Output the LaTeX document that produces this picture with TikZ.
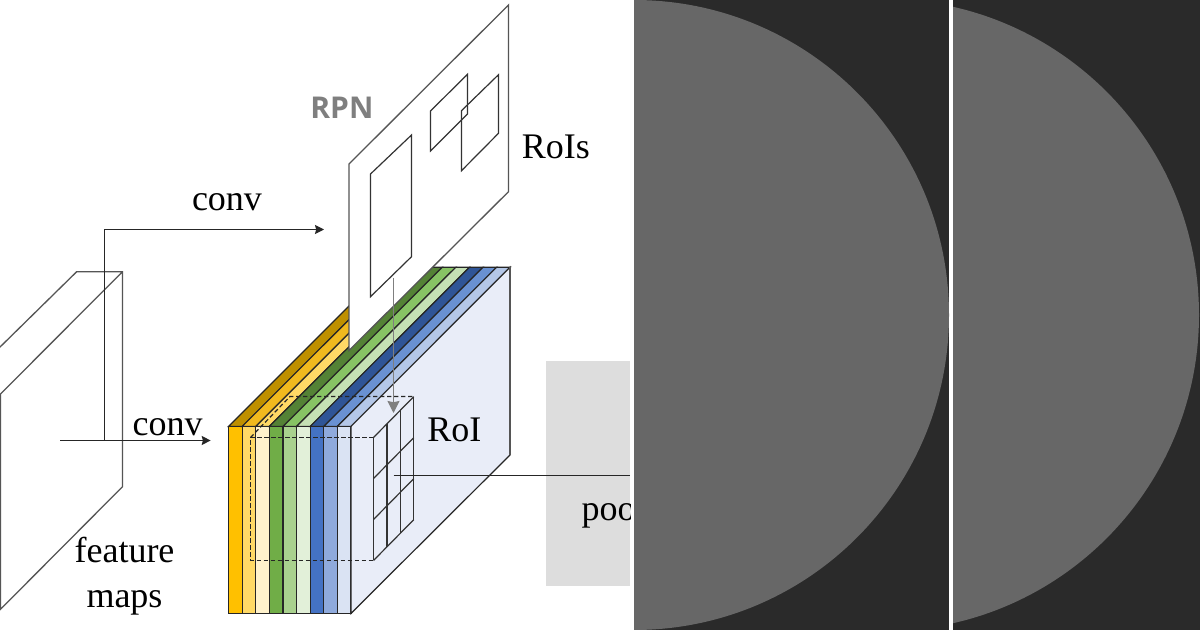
\documentclass[tikz,border=0pt]{standalone}
\usepackage{fontspec}
\setmainfont{Liberation Serif}
\newfontfamily\rpnfont{Open Sans}
\usetikzlibrary{calc,arrows.meta,positioning}
\definecolor{panelDark}{RGB}{42,42,42}
\definecolor{discGrey}{RGB}{103,103,103}
\definecolor{boxGrey}{RGB}{221,221,221}
\definecolor{edgeGrey}{RGB}{85,85,85}
\definecolor{rpnGrey}{RGB}{127,127,127}
\definecolor{sideBlue}{RGB}{233,237,248}
\definecolor{frontA}{RGB}{255,192,0}
\definecolor{frontB}{RGB}{255,217,102}
\definecolor{frontC}{RGB}{255,242,204}
\definecolor{frontD}{RGB}{112,173,71}
\definecolor{frontE}{RGB}{169,209,142}
\definecolor{frontF}{RGB}{226,240,217}
\definecolor{frontG}{RGB}{68,114,196}
\definecolor{frontH}{RGB}{143,170,220}
\definecolor{frontI}{RGB}{218,227,243}
\definecolor{topA}{RGB}{191,144,0}
\definecolor{topB}{RGB}{240,185,30}
\definecolor{topC}{RGB}{255,217,102}
\definecolor{topD}{RGB}{84,130,53}
\definecolor{topE}{RGB}{135,195,100}
\definecolor{topF}{RGB}{197,224,180}
\definecolor{topG}{RGB}{47,85,151}
\definecolor{topH}{RGB}{105,145,210}
\definecolor{topI}{RGB}{180,199,231}
\tikzset{
  labeltext/.style={anchor=base west,inner sep=0pt,font=\fontsize{18}{20}\selectfont},
  sheet/.style={draw=edgeGrey,line width=0.65pt},
  thinbox/.style={draw=black!80,line width=0.6pt},
  flowline/.style={draw=black!85,line width=0.6pt},
  roidash/.style={draw=black!85,line width=0.6pt,dash pattern=on 2.2pt off 1.3pt}
}
\begin{document}
\begin{tikzpicture}[x=0.5pt,y=-0.5pt]
\useasboundingbox (0,0) rectangle (1200,630);
\fill[white] (0,0) rectangle (1200,630);
% dark panels
\fill[panelDark] (634,0) rectangle (949,630);
\fill[panelDark] (953,0) rectangle (1200,630);
\begin{scope}
  \clip (634,0) rectangle (949,630);
  \fill[discGrey] (634,315) circle (315);
\end{scope}
\begin{scope}
  \clip (953,0) rectangle (1200,630);
  \fill[discGrey] (883,315) circle (316);
\end{scope}
% grey box
\fill[boxGrey] (546,361) rectangle (630,586);
\begin{scope}
  \clip (546,361) rectangle (630,586);
  \node[labeltext] (poolText) at (581.2,521) {poo};
\end{scope}
% feature maps sheet
\begin{scope}
  \clip (0,0) rectangle (1200,630);
  \draw[sheet] (-20,366.7) -- (76.7,271.7) -- (122.5,271.7) -- (122.5,486.7) -- (0.5,609.3) -- (0.5,394) -- (122.5,271.7);
\end{scope}
% stack of maps
\foreach \i/\cfront/\ctop in {0/frontA/topA,1/frontB/topB,2/frontC/topC,3/frontD/topD,4/frontE/topE,5/frontF/topF,6/frontG/topG,7/frontH/topH,8/frontI/topI}{
  \pgfmathsetmacro{\xa}{228.5+13.6*\i}
  \pgfmathsetmacro{\xb}{228.5+13.6*(\i+1)}
  \filldraw[draw=black!85,line width=0.6pt,fill=\ctop] (\xa,426.5) -- ++(159.3,-159.2) -- ++(13.6,0) -- (\xb,426.5) -- cycle;
  \filldraw[draw=black!85,line width=0.6pt,fill=\cfront] (\xa,426.5) rectangle (\xb,613.5);
}
\filldraw[fill=sideBlue,draw=black!85,line width=0.6pt] (350.9,426.5) -- (510,267.3) -- (510,455) -- (350.9,613.5) -- cycle;
\draw[edgeGrey,line width=0.9pt] (510,267.3) -- (510,455);
% RPN sheet
\filldraw[sheet,fill=white] (349,164) -- (508.5,5) -- (508.5,191.7) -- (349,350.5) -- cycle;
\draw[thinbox] (370.5,174) -- (411.5,135) -- (411.5,256.7) -- (370.5,296.7) -- cycle;
\draw[thinbox] (430.5,111) -- (467.5,74.3) -- (467.5,114) -- (430.5,151) -- cycle;
\draw[thinbox] (461.5,110.7) -- (498.5,74.7) -- (498.5,133.3) -- (461.5,170.7) -- cycle;
% RoI on the stack
\draw[roidash] (373.5,437.5) -- (250.5,437.5) -- (250.5,560.5) -- (373.5,560.5);
\draw[roidash] (250.5,437.5) -- (290,396.5) -- (413.5,396.5);
\foreach \k in {0,1,2,3}{
  \draw[thinbox] ($(373.5,437.5)+(13.4*\k,-13.6*\k)$) -- ($(373.5,560.5)+(13.4*\k,-13.6*\k)$);
  \draw[thinbox] ($(373.5,437.5)+(0,41*\k)$) -- ($(413.7,396.7)+(0,41*\k)$);
}
% connectors
\coordinate (convStart) at (60,440.5);
\coordinate (convEnd) at (210.7,440.5);
\coordinate (forkPoint) at (104.5,440.5);
\coordinate (forkCorner) at (104.5,229.5);
\coordinate (rpnEnd) at (324,229.5);
\coordinate (roiTop) at (393.5,278);
\coordinate (roiTip) at (393.5,413);
\coordinate (roiCentre) at (393.5,475.5);
\coordinate (boxEdge) at (630,475.5);
\draw[flowline,-{Stealth[length=4.5pt,width=4.5pt,inset=0.6pt]}] (convStart) -- (convEnd);
\draw[flowline,-{Stealth[length=4.5pt,width=4.5pt,inset=0.6pt]}] (forkPoint) -- (forkCorner) -- (rpnEnd);
\draw[draw=rpnGrey,line width=0.6pt,-{Stealth[length=6pt,width=6pt,inset=0.6pt]}] (roiTop) -- (roiTip);
\draw[flowline] (roiCentre) -- (boxEdge);
% labels
\node[labeltext] (convLow) at (132.3,436) {conv};
\node[labeltext] (convHigh) at (191.6,211) {conv};
\node[labeltext] (roiLabel) at (427,441.7) {RoI};
\node[labeltext] (roisLabel) at (521.5,159) {RoIs};
\node[labeltext,anchor=base] (featureLabel) at (124.5,563) {feature};
\node[labeltext,anchor=base] (mapsLabel) at (124.5,607) {maps};
\node[anchor=base west,inner sep=0pt,font=\rpnfont\bfseries\fontsize{15}{17}\selectfont,text=rpnGrey] (rpnLabel) at (310,119) {RPN};
\end{tikzpicture}
\end{document}
